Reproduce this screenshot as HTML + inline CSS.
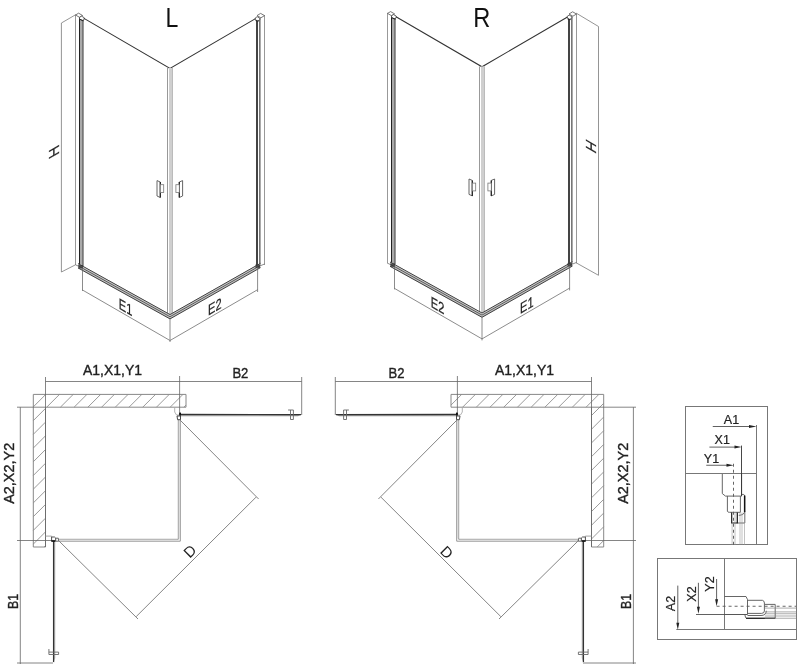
<!DOCTYPE html><html><head><meta charset="utf-8"><style>html,body{margin:0;padding:0;background:#fff;overflow:hidden;}svg{display:block;will-change:transform}</style></head><body>
<svg width="800" height="664" viewBox="0 0 800 664">
<rect width="800" height="664" fill="#fff"/>
<g><line x1="75.5" y1="14.5" x2="75.5" y2="265" stroke="#999" stroke-width="1"/><rect x="79" y="17" width="1" height="249" fill="#222"/><rect x="80" y="17" width="2" height="249" fill="#aaa"/><rect x="82" y="17" width="1" height="249" fill="#777"/><rect x="83" y="17" width="1" height="249" fill="#999"/><path d="M75.5 15 L78.6 13.2 L82.6 15.5 L79.5 17.3 Z" fill="#fff" stroke="#555" stroke-width="0.8"/><path d="M79.5 17.3 L81.6 16.2 L84.2 17.7 L84.2 19.5 L82.2 20.6 L79.5 19 Z" fill="#fff" stroke="#444" stroke-width="0.8"/><line x1="79.5" y1="19.2" x2="83.5" y2="20.8" stroke="#222" stroke-width="1"/><rect x="256" y="18" width="2" height="248" fill="#444"/><rect x="259" y="18" width="1" height="248" fill="#777"/><rect x="260" y="18" width="1" height="248" fill="#aaa"/><line x1="264.5" y1="15" x2="264.5" y2="265" stroke="#999" stroke-width="1"/><path d="M257 15.6 L260.6 13.4 L264.5 15.6 L260.9 17.8 Z" fill="#fff" stroke="#555" stroke-width="0.8"/><path d="M255.2 18 L257.2 16.7 L259.8 18.2 L259.8 19.8 L257.6 21 L255.2 19.6 Z" fill="#fff" stroke="#444" stroke-width="0.8"/><line x1="255.6" y1="20.6" x2="258.6" y2="21.2" stroke="#222" stroke-width="1"/><polyline points="84,18.4 170,68.4 255.5,18.6" fill="none" stroke="#333" stroke-width="1.05"/><rect x="167" y="68" width="1" height="247" fill="#999"/><rect x="169" y="68" width="4" height="247" fill="#cfcfcf"/><rect x="172" y="68" width="1" height="247" fill="#bbb"/><path d="M157 180.6 L160.3 182 L160.3 197.5 L157 196 Z" fill="#fff" stroke="#555" stroke-width="0.9"/><line x1="160.3" y1="182" x2="160.3" y2="197.5" stroke="#222" stroke-width="1.2"/><rect x="160.3" y="184.7" width="3.4" height="7.8" fill="#fff" stroke="#777" stroke-width="0.8"/><path d="M182.6 180.6 L179.3 182 L179.3 197.5 L182.6 196 Z" fill="#fff" stroke="#555" stroke-width="0.9"/><line x1="179.3" y1="182" x2="179.3" y2="197.5" stroke="#222" stroke-width="1.2"/><rect x="175.9" y="184.7" width="3.4" height="7.8" fill="#fff" stroke="#777" stroke-width="0.8"/><polygon points="78,263.3 170,314.3 260.5,263 260.5,267.5 170,319 78,268" fill="#b0b0b0"/><polyline points="78,263.6 170,314.6 260.5,263.3" fill="none" stroke="#3a3a3a" stroke-width="0.95"/><polyline points="78,264.7 170,315.7 260.5,264.4" fill="none" stroke="#dadada" stroke-width="0.6"/><polyline points="78,265.75 170,316.75 260.5,265.45" fill="none" stroke="#4a4a4a" stroke-width="0.85"/><polyline points="78,266.8 170,317.8 260.5,266.5" fill="none" stroke="#d0d0d0" stroke-width="0.6"/><polyline points="78,267.90000000000003 170,318.90000000000003 260.5,267.6" fill="none" stroke="#3a3a3a" stroke-width="0.95"/><rect x="78.5" y="265" width="4.5" height="3.5" fill="#333" opacity="0.8"/><rect x="255.5" y="264.5" width="4.5" height="3.5" fill="#333" opacity="0.8"/><g stroke="#666" stroke-width="0.75" fill="none"><line x1="82.5" y1="268" x2="82.5" y2="291"/><line x1="170" y1="319" x2="170" y2="342"/><line x1="257.6" y1="267" x2="257.6" y2="292"/><polyline points="82.5,290 170,340.5 257.6,289.7"/><line x1="261" y1="265.5" x2="264.5" y2="264"/><line x1="75.5" y1="264.8" x2="78.5" y2="266.2"/></g><text x="0" y="0" font-family="Liberation Sans, sans-serif" font-size="15.3" fill="#222" stroke="#222" stroke-width="0.25" text-anchor="middle" textLength="13.5" lengthAdjust="spacingAndGlyphs" transform="translate(125.6,312.3) matrix(1,0.577,0,1,0,0)">E1</text><text x="0" y="0" font-family="Liberation Sans, sans-serif" font-size="15.3" fill="#222" stroke="#222" stroke-width="0.25" text-anchor="middle" textLength="13.5" lengthAdjust="spacingAndGlyphs" transform="translate(214.8,311.8) matrix(1,-0.577,0,1,0,0)">E2</text></g>
<g transform="translate(312,-1.6)"><line x1="75.5" y1="14.5" x2="75.5" y2="265" stroke="#999" stroke-width="1"/><rect x="79" y="17" width="1" height="249" fill="#222"/><rect x="80" y="17" width="2" height="249" fill="#aaa"/><rect x="82" y="17" width="1" height="249" fill="#777"/><rect x="83" y="17" width="1" height="249" fill="#999"/><path d="M75.5 15 L78.6 13.2 L82.6 15.5 L79.5 17.3 Z" fill="#fff" stroke="#555" stroke-width="0.8"/><path d="M79.5 17.3 L81.6 16.2 L84.2 17.7 L84.2 19.5 L82.2 20.6 L79.5 19 Z" fill="#fff" stroke="#444" stroke-width="0.8"/><line x1="79.5" y1="19.2" x2="83.5" y2="20.8" stroke="#222" stroke-width="1"/><rect x="256" y="18" width="2" height="248" fill="#444"/><rect x="259" y="18" width="1" height="248" fill="#777"/><rect x="260" y="18" width="1" height="248" fill="#aaa"/><line x1="264.5" y1="15" x2="264.5" y2="265" stroke="#999" stroke-width="1"/><path d="M257 15.6 L260.6 13.4 L264.5 15.6 L260.9 17.8 Z" fill="#fff" stroke="#555" stroke-width="0.8"/><path d="M255.2 18 L257.2 16.7 L259.8 18.2 L259.8 19.8 L257.6 21 L255.2 19.6 Z" fill="#fff" stroke="#444" stroke-width="0.8"/><line x1="255.6" y1="20.6" x2="258.6" y2="21.2" stroke="#222" stroke-width="1"/><polyline points="84,18.4 170,68.4 255.5,18.6" fill="none" stroke="#333" stroke-width="1.05"/><rect x="167" y="68" width="1" height="247" fill="#999"/><rect x="169" y="68" width="4" height="247" fill="#cfcfcf"/><rect x="172" y="68" width="1" height="247" fill="#bbb"/><path d="M157 180.6 L160.3 182 L160.3 197.5 L157 196 Z" fill="#fff" stroke="#555" stroke-width="0.9"/><line x1="160.3" y1="182" x2="160.3" y2="197.5" stroke="#222" stroke-width="1.2"/><rect x="160.3" y="184.7" width="3.4" height="7.8" fill="#fff" stroke="#777" stroke-width="0.8"/><path d="M182.6 180.6 L179.3 182 L179.3 197.5 L182.6 196 Z" fill="#fff" stroke="#555" stroke-width="0.9"/><line x1="179.3" y1="182" x2="179.3" y2="197.5" stroke="#222" stroke-width="1.2"/><rect x="175.9" y="184.7" width="3.4" height="7.8" fill="#fff" stroke="#777" stroke-width="0.8"/><polygon points="78,263.3 170,314.3 260.5,263 260.5,267.5 170,319 78,268" fill="#b0b0b0"/><polyline points="78,263.6 170,314.6 260.5,263.3" fill="none" stroke="#3a3a3a" stroke-width="0.95"/><polyline points="78,264.7 170,315.7 260.5,264.4" fill="none" stroke="#dadada" stroke-width="0.6"/><polyline points="78,265.75 170,316.75 260.5,265.45" fill="none" stroke="#4a4a4a" stroke-width="0.85"/><polyline points="78,266.8 170,317.8 260.5,266.5" fill="none" stroke="#d0d0d0" stroke-width="0.6"/><polyline points="78,267.90000000000003 170,318.90000000000003 260.5,267.6" fill="none" stroke="#3a3a3a" stroke-width="0.95"/><rect x="78.5" y="265" width="4.5" height="3.5" fill="#333" opacity="0.8"/><rect x="255.5" y="264.5" width="4.5" height="3.5" fill="#333" opacity="0.8"/><g stroke="#666" stroke-width="0.75" fill="none"><line x1="82.5" y1="268" x2="82.5" y2="291"/><line x1="170" y1="319" x2="170" y2="342"/><line x1="257.6" y1="267" x2="257.6" y2="292"/><polyline points="82.5,290 170,340.5 257.6,289.7"/><line x1="261" y1="265.5" x2="264.5" y2="264"/><line x1="75.5" y1="264.8" x2="78.5" y2="266.2"/></g><text x="0" y="0" font-family="Liberation Sans, sans-serif" font-size="15.3" fill="#222" stroke="#222" stroke-width="0.25" text-anchor="middle" textLength="13.5" lengthAdjust="spacingAndGlyphs" transform="translate(125.6,312.3) matrix(1,0.577,0,1,0,0)">E2</text><text x="0" y="0" font-family="Liberation Sans, sans-serif" font-size="15.3" fill="#222" stroke="#222" stroke-width="0.25" text-anchor="middle" textLength="13.5" lengthAdjust="spacingAndGlyphs" transform="translate(214.8,311.8) matrix(1,-0.577,0,1,0,0)">E1</text></g>
<g stroke="#7a7a7a" stroke-width="0.8" fill="none">
<line x1="61.4" y1="23" x2="61.4" y2="272"/><line x1="61.4" y1="23" x2="75.5" y2="14.8"/><line x1="61.4" y1="272" x2="75.5" y2="264.8"/>
<line x1="598.5" y1="26.5" x2="598.5" y2="275.3"/><line x1="576.3" y1="13.2" x2="598.5" y2="26.5"/><line x1="576.5" y1="263" x2="598.5" y2="275.3"/>
</g>
<text font-family="Liberation Sans, sans-serif" font-size="14.5" fill="#222" stroke="#222" stroke-width="0.3" text-anchor="middle" transform="translate(54,152) matrix(0,-1,1,-0.577,0,0) translate(0,5.2)">H</text>
<text font-family="Liberation Sans, sans-serif" font-size="14.5" fill="#222" stroke="#222" stroke-width="0.3" text-anchor="middle" transform="translate(591,146.4) matrix(0,1,-1,-0.577,0,0) translate(0,5.2)">H</text>
<text font-family="Liberation Sans, sans-serif" font-size="27.5" fill="#111" text-anchor="middle" transform="translate(171.8,26.8) scale(0.84,1)">L</text>
<text font-family="Liberation Sans, sans-serif" font-size="27.5" fill="#111" text-anchor="middle" transform="translate(481.8,26.8) scale(0.86,1)">R</text>
<path d="M33.3 394.4 L186 394.4 L186 407.2 L45.5 407.2 L45.5 547 L33.3 547 Z" fill="none" stroke="#888" stroke-width="1"/><g stroke="#888" stroke-width="0.85"><line x1="33.30" y1="406.88" x2="45.78" y2="394.40"/><line x1="46.70" y1="407.20" x2="59.50" y2="394.40"/><line x1="60.42" y1="407.20" x2="73.22" y2="394.40"/><line x1="74.14" y1="407.20" x2="86.94" y2="394.40"/><line x1="87.86" y1="407.20" x2="100.66" y2="394.40"/><line x1="101.58" y1="407.20" x2="114.38" y2="394.40"/><line x1="115.30" y1="407.20" x2="128.10" y2="394.40"/><line x1="129.02" y1="407.20" x2="141.82" y2="394.40"/><line x1="142.74" y1="407.20" x2="155.54" y2="394.40"/><line x1="156.46" y1="407.20" x2="169.26" y2="394.40"/><line x1="170.18" y1="407.20" x2="182.98" y2="394.40"/><line x1="183.90" y1="407.20" x2="186.00" y2="405.10"/><line x1="33.30" y1="420.60" x2="45.50" y2="408.40"/><line x1="33.30" y1="434.32" x2="45.50" y2="422.12"/><line x1="33.30" y1="448.04" x2="45.50" y2="435.84"/><line x1="33.30" y1="461.76" x2="45.50" y2="449.56"/><line x1="33.30" y1="475.48" x2="45.50" y2="463.28"/><line x1="33.30" y1="489.20" x2="45.50" y2="477.00"/><line x1="33.30" y1="502.92" x2="45.50" y2="490.72"/><line x1="33.30" y1="516.64" x2="45.50" y2="504.44"/><line x1="33.30" y1="530.36" x2="45.50" y2="518.16"/><line x1="33.30" y1="544.08" x2="45.50" y2="531.88"/><line x1="44.10" y1="547.00" x2="45.50" y2="545.60"/></g><g stroke="#666" stroke-width="0.8" fill="none"><line x1="45.5" y1="377" x2="45.5" y2="547"/><line x1="179.6" y1="376" x2="179.6" y2="415"/><line x1="301.7" y1="377" x2="301.7" y2="415"/><line x1="45.5" y1="381.5" x2="301.7" y2="381.5"/><line x1="17" y1="407.2" x2="45.5" y2="407.2"/><line x1="17" y1="540.5" x2="58" y2="540.5"/><line x1="17" y1="663" x2="53" y2="663"/><line x1="20.3" y1="407.2" x2="20.3" y2="664"/><line x1="180" y1="420" x2="258.6" y2="499"/><line x1="59" y1="541" x2="138" y2="619"/><line x1="256.1" y1="497.1" x2="136.2" y2="616.6"/></g><path d="M180 414 L298 414 L301.7 414.6 L298 416.2 L180 416.2 Z" fill="#999"/><line x1="180" y1="414.4" x2="301" y2="414.6" stroke="#333" stroke-width="1.1"/><path d="M53 541 L55.2 541 L55.2 658 L54 663 L53 659 Z" fill="#a0a0a0"/><line x1="53.5" y1="541" x2="53.5" y2="662" stroke="#333" stroke-width="1.1"/><path d="M178.3 420 L178.3 539.3 M180.3 420 L180.3 541.2 L58.7 541.2 M58.7 539.3 L178.3 539.3" fill="none" stroke="#8a8a8a" stroke-width="0.9"/><line x1="179.3" y1="420" x2="179.3" y2="538.5" stroke="#d8d8d8" stroke-width="1"/><line x1="58.7" y1="540.2" x2="177.5" y2="540.2" stroke="#d8d8d8" stroke-width="1"/><path d="M174.7 407.2 L174.7 412 L176.5 415 L179.5 415 L179.5 412.5" fill="none" stroke="#aaa" stroke-width="0.9"/><path d="M177 416 L180.5 416 L180.5 419.7 L177.6 419.7 Z" fill="#fff" stroke="#333" stroke-width="0.9"/><rect x="179.1" y="412.6" width="1.9" height="3" fill="#111"/><path d="M45.5 536.1 L51.6 536.1 L51.6 540.4" fill="none" stroke="#999" stroke-width="0.9"/><path d="M51.6 541 L51.6 537 L54.5 537 Q55.7 537.5 55.7 539 L55.7 541 Z" fill="#fff" stroke="#444" stroke-width="0.9"/><path d="M55.7 538.2 L58.3 538.2 L58.7 541.2 L55.7 541.2 Z" fill="#fff" stroke="#555" stroke-width="0.9"/><rect x="51.3" y="540.2" width="4" height="1.6" fill="#111"/><path d="M288.1 410 L293.4 410 L293.4 419.5 L290.5 419.5 L290.5 410" fill="none" stroke="#666" stroke-width="0.9"/><path d="M48.9 649 L48.9 654.5 L58.6 654.5 L58.6 652.1 L48.9 652.1" fill="none" stroke="#666" stroke-width="0.9"/>
<path d="M603.7 394.4 L451 394.4 L451 407.2 L591.5 407.2 L591.5 547 L603.7 547 Z" fill="none" stroke="#888" stroke-width="1"/><g stroke="#888" stroke-width="0.85"><line x1="451.00" y1="405.08" x2="461.68" y2="394.40"/><line x1="462.60" y1="407.20" x2="475.40" y2="394.40"/><line x1="476.32" y1="407.20" x2="489.12" y2="394.40"/><line x1="490.04" y1="407.20" x2="502.84" y2="394.40"/><line x1="503.76" y1="407.20" x2="516.56" y2="394.40"/><line x1="517.48" y1="407.20" x2="530.28" y2="394.40"/><line x1="531.20" y1="407.20" x2="544.00" y2="394.40"/><line x1="544.92" y1="407.20" x2="557.72" y2="394.40"/><line x1="558.64" y1="407.20" x2="571.44" y2="394.40"/><line x1="572.36" y1="407.20" x2="585.16" y2="394.40"/><line x1="586.08" y1="407.20" x2="598.88" y2="394.40"/><line x1="599.80" y1="407.20" x2="603.70" y2="403.30"/><line x1="591.50" y1="415.50" x2="599.80" y2="407.20"/><line x1="591.50" y1="429.22" x2="603.70" y2="417.02"/><line x1="591.50" y1="442.94" x2="603.70" y2="430.74"/><line x1="591.50" y1="456.66" x2="603.70" y2="444.46"/><line x1="591.50" y1="470.38" x2="603.70" y2="458.18"/><line x1="591.50" y1="484.10" x2="603.70" y2="471.90"/><line x1="591.50" y1="497.82" x2="603.70" y2="485.62"/><line x1="591.50" y1="511.54" x2="603.70" y2="499.34"/><line x1="591.50" y1="525.26" x2="603.70" y2="513.06"/><line x1="591.50" y1="538.98" x2="603.70" y2="526.78"/><line x1="597.20" y1="547.00" x2="603.70" y2="540.50"/></g><g stroke="#666" stroke-width="0.8" fill="none"><line x1="591.5" y1="377" x2="591.5" y2="547"/><line x1="457.4" y1="376" x2="457.4" y2="415"/><line x1="335.3" y1="377" x2="335.3" y2="415"/><line x1="591.5" y1="381.5" x2="335.3" y2="381.5"/><line x1="591.5" y1="407.2" x2="636" y2="407.2"/><line x1="577" y1="540.5" x2="636" y2="540.5"/><line x1="583" y1="663" x2="636" y2="663"/><line x1="633.4" y1="407.2" x2="633.4" y2="664"/><line x1="457" y1="420" x2="378.4" y2="499"/><line x1="578" y1="541" x2="499" y2="619"/><line x1="380.9" y1="497.1" x2="500.8" y2="616.6"/></g><path d="M457 414 L339 414 L335.3 414.6 L339 416.2 L457 416.2 Z" fill="#999"/><line x1="457" y1="414.4" x2="336" y2="414.6" stroke="#333" stroke-width="1.1"/><path d="M584 541 L581.8 541 L581.8 658 L583 663 L584 659 Z" fill="#a0a0a0"/><line x1="583.5" y1="541" x2="583.5" y2="662" stroke="#333" stroke-width="1.1"/><path d="M458.7 420 L458.7 539.3 M456.7 420 L456.7 541.2 L578.3 541.2 M578.3 539.3 L458.7 539.3" fill="none" stroke="#8a8a8a" stroke-width="0.9"/><line x1="457.7" y1="420" x2="457.7" y2="538.5" stroke="#d8d8d8" stroke-width="1"/><line x1="578.3" y1="540.2" x2="459.5" y2="540.2" stroke="#d8d8d8" stroke-width="1"/><path d="M462.3 407.2 L462.3 412 L460.5 415 L457.5 415 L457.5 412.5" fill="none" stroke="#aaa" stroke-width="0.9"/><path d="M460 416 L456.5 416 L456.5 419.7 L459.4 419.7 Z" fill="#fff" stroke="#333" stroke-width="0.9"/><rect x="456" y="412.6" width="1.9" height="3" fill="#111"/><path d="M591.5 536.1 L585.4 536.1 L585.4 540.4" fill="none" stroke="#999" stroke-width="0.9"/><path d="M585.4 541 L585.4 537 L582.5 537 Q581.3 537.5 581.3 539 L581.3 541 Z" fill="#fff" stroke="#444" stroke-width="0.9"/><path d="M581.3 538.2 L578.7 538.2 L578.3 541.2 L581.3 541.2 Z" fill="#fff" stroke="#555" stroke-width="0.9"/><rect x="581.7" y="540.2" width="4" height="1.6" fill="#111"/><path d="M348.9 410 L343.6 410 L343.6 419.5 L346.5 419.5 L346.5 410" fill="none" stroke="#666" stroke-width="0.9"/><path d="M588.1 649 L588.1 654.5 L578.4 654.5 L578.4 652.1 L588.1 652.1" fill="none" stroke="#666" stroke-width="0.9"/>
<text x="112.5" y="375" font-family="Liberation Sans, sans-serif" font-size="15.3" fill="#222" stroke="#222" stroke-width="0.38" text-anchor="middle" textLength="59" lengthAdjust="spacingAndGlyphs">A1,X1,Y1</text>
<text x="240.4" y="378" font-family="Liberation Sans, sans-serif" font-size="15.3" fill="#222" stroke="#222" stroke-width="0.38" text-anchor="middle" textLength="16" lengthAdjust="spacingAndGlyphs">B2</text>
<text x="524.5" y="375" font-family="Liberation Sans, sans-serif" font-size="15.3" fill="#222" stroke="#222" stroke-width="0.38" text-anchor="middle" textLength="59" lengthAdjust="spacingAndGlyphs">A1,X1,Y1</text>
<text x="396.5" y="378" font-family="Liberation Sans, sans-serif" font-size="15.3" fill="#222" stroke="#222" stroke-width="0.38" text-anchor="middle" textLength="16" lengthAdjust="spacingAndGlyphs">B2</text>
<text font-family="Liberation Sans, sans-serif" font-size="15.3" fill="#222" stroke="#222" stroke-width="0.38" text-anchor="middle" textLength="61" lengthAdjust="spacingAndGlyphs" transform="translate(14.2,473.3) rotate(-90)">A2,X2,Y2</text>
<text font-family="Liberation Sans, sans-serif" font-size="15.3" fill="#222" stroke="#222" stroke-width="0.38" text-anchor="middle" textLength="61" lengthAdjust="spacingAndGlyphs" transform="translate(627.9,473.3) rotate(-90)">A2,X2,Y2</text>
<text font-family="Liberation Sans, sans-serif" font-size="15.3" fill="#222" stroke="#222" stroke-width="0.38" text-anchor="middle" textLength="15" lengthAdjust="spacingAndGlyphs" transform="translate(18.4,601.5) rotate(-90)">B1</text>
<text font-family="Liberation Sans, sans-serif" font-size="15.3" fill="#222" stroke="#222" stroke-width="0.38" text-anchor="middle" textLength="15" lengthAdjust="spacingAndGlyphs" transform="translate(630.9,601.5) rotate(-90)">B1</text>
<text font-family="Liberation Sans, sans-serif" font-size="15" fill="#222" text-anchor="middle" transform="translate(193.5,555) rotate(-45)">D</text>
<text font-family="Liberation Sans, sans-serif" font-size="15" fill="#222" text-anchor="middle" transform="translate(443,556) rotate(45)">D</text>
<g stroke="#777" stroke-width="1" fill="none">
<rect x="685.5" y="406.5" width="82" height="138"/>

<line x1="756.5" y1="425" x2="756.5" y2="544.7"/>
<rect x="657.5" y="558.5" width="139" height="81"/>
<line x1="724.5" y1="558.4" x2="724.5" y2="629.7"/>
<line x1="676.3" y1="629.5" x2="796.5" y2="629.5"/>
</g>
<g stroke="#444" stroke-width="0.85" fill="none">
<line x1="712.75" y1="426.5" x2="750" y2="426.5"/>
<line x1="709.4" y1="447.1" x2="735" y2="447.1"/>
<line x1="706.25" y1="465.25" x2="727" y2="465.25"/>
<line x1="677.8" y1="585.6" x2="677.8" y2="623"/>
<line x1="698.4" y1="582.8" x2="698.4" y2="607"/>
<line x1="696" y1="614.5" x2="747" y2="614.5"/>
<line x1="716.6" y1="579" x2="716.6" y2="600"/>
</g>
<g fill="#222">
<path d="M749 425 L756.5 426.5 L749 428 Z"/>
<path d="M734.5 445.6 L741.5 447.1 L734.5 448.6 Z"/>
<path d="M726.5 463.75 L733.5 465.25 L726.5 466.75 Z"/>
<path d="M676.3 622.7 L677.8 629.7 L679.3 622.7 Z"/>
<path d="M696.9 606.8 L698.4 613.8 L699.9 606.8 Z"/>
<path d="M715.1 599.3 L716.6 606.3 L718.1 599.3 Z"/>
</g>
<text x="731.5" y="423.75" font-family="Liberation Sans, sans-serif" font-size="12.5" fill="#222" stroke="#222" stroke-width="0.2" text-anchor="middle">A1</text>
<text x="722.2" y="444" font-family="Liberation Sans, sans-serif" font-size="12.5" fill="#222" stroke="#222" stroke-width="0.2" text-anchor="middle">X1</text>
<text x="711.5" y="462.5" font-family="Liberation Sans, sans-serif" font-size="12.5" fill="#222" stroke="#222" stroke-width="0.2" text-anchor="middle">Y1</text>
<text font-family="Liberation Sans, sans-serif" font-size="12.5" fill="#222" stroke="#222" stroke-width="0.2" text-anchor="middle" transform="translate(675.3,603.5) rotate(-90)">A2</text>
<text font-family="Liberation Sans, sans-serif" font-size="12.5" fill="#222" stroke="#222" stroke-width="0.2" text-anchor="middle" transform="translate(696,594) rotate(-90)">X2</text>
<text font-family="Liberation Sans, sans-serif" font-size="12.5" fill="#222" stroke="#222" stroke-width="0.2" text-anchor="middle" transform="translate(714.2,584) rotate(-90)">Y2</text>
<g stroke="#555" stroke-width="0.9" fill="none">
<path d="M722.3 473.4 L722.3 493.6 L725.5 496.1 L741.6 496.1 L741.6 473.4"/>
<path d="M727.4 496.1 L727.4 511.3 Q727.6 512.3 729.5 512.3 L740.4 512.3 L740.4 496.1"/>
<path d="M741.6 494.3 L743.8 494.6 Q744.8 495 744.8 496.5 L744.8 523 L737.5 523 M744.8 511.5 Q744 515 738.8 515.4"/>
</g>
<path d="M731.6 512.6 L731.6 523 L737.3 523 L737.3 512.6" fill="none" stroke="#111" stroke-width="1.2"/>
<line x1="744.6" y1="495.5" x2="744.6" y2="512" stroke="#111" stroke-width="1.4"/>
<g stroke="#999" stroke-width="0.6">
<line x1="732.1" y1="512.5" x2="732.1" y2="544.7"/>
<line x1="735" y1="512.5" x2="735" y2="544.7"/>
<line x1="740" y1="512.5" x2="740" y2="544.7"/>
<line x1="742" y1="512.5" x2="742" y2="544.7"/>
<line x1="744.5" y1="512.5" x2="744.5" y2="544.7"/>
</g>
<line x1="685.5" y1="473.5" x2="756.5" y2="473.5" stroke="#777" stroke-width="1"/>
<line x1="741.5" y1="445.6" x2="741.5" y2="496" stroke="#333" stroke-width="0.9"/>
<line x1="733.5" y1="463.75" x2="733.5" y2="544.7" stroke="#555" stroke-width="0.9" stroke-dasharray="3,3"/>
<g stroke="#555" stroke-width="0.9" fill="none">
<path d="M724.5 596.5 L746 596.5 L747.5 599.5 L747.5 614.5 L724.5 614.5"/>
<path d="M747.5 600.3 L762.4 600.3 Q764.4 600.8 764.4 603 L764.4 611 Q764.2 613.4 761.5 613.4 L747.5 613.4"/>
<path d="M744.9 614.8 L745.6 617.6 Q746 618.3 747.5 618.3 L775.2 618.3 L775.2 604.4 L764.8 604.4 M766.4 610.8 Q766 615.5 761 615.5 L747.5 615.5"/>
</g>
<line x1="746" y1="618.3" x2="775.2" y2="618.3" stroke="#222" stroke-width="1.2"/>
<g stroke="#888" stroke-width="0.7">
<line x1="764.8" y1="608.1" x2="796.3" y2="608.1"/>
<line x1="764.8" y1="611.9" x2="796.3" y2="611.9"/>
<line x1="764.8" y1="613.75" x2="796.3" y2="613.75"/>
<line x1="764.8" y1="616" x2="796.3" y2="616"/>
<line x1="764.8" y1="618.25" x2="796.3" y2="618.25"/>
</g>
<line x1="716.6" y1="606.25" x2="796" y2="606.25" stroke="#555" stroke-width="0.9" stroke-dasharray="3,3"/>
</svg></body></html>
